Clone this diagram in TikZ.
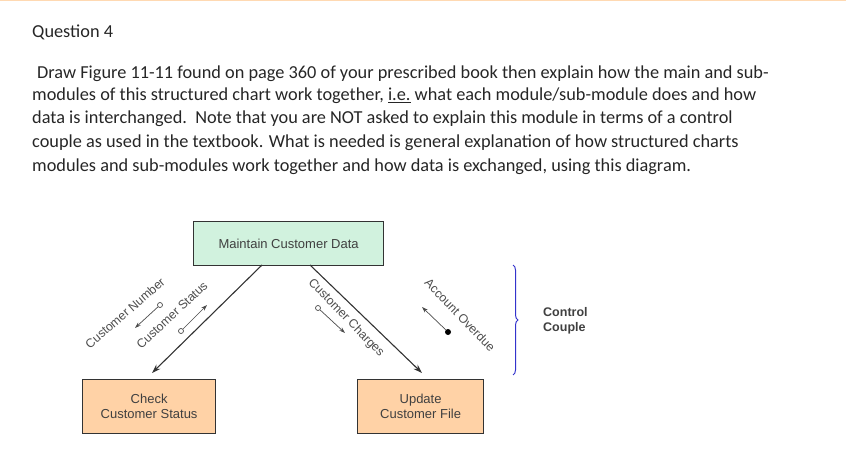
\documentclass[tikz,border=0pt]{standalone}
\usepackage{fontspec}
\setmainfont{Carlito}
\newfontfamily\arialf{Liberation Sans}
\usetikzlibrary{arrows.meta,decorations.pathreplacing}
\begin{document}
\begin{tikzpicture}[x=1pt,y=-1pt,
  txt/.style={anchor=base west,inner sep=0,font=\fontsize{18.3}{21}\selectfont,text=black!85},
  box/.style={draw=black!80,line width=1.2pt,inner sep=0,font=\arialf\fontsize{13}{15}\selectfont,align=center,text=black!75},
  lab/.style={font=\arialf\fontsize{12.3}{14}\selectfont,text=black!70,inner sep=0},
  main/.style={draw=black!80,line width=1.1pt,-{Stealth[length=9pt,width=6pt]}},
  cpl/.style={draw=black!70,line width=0.7pt,-{Stealth[length=6pt,width=4pt]}}]
\useasboundingbox (0,0) rectangle (846,457);
\fill[orange!30] (0,0) rectangle (846,1.5);
\node[txt] (q) at (32,38) {Question 4};
\node[txt] (l1) at (37,79) {Draw Figure 11-11 found on page 360 of your prescribed book then explain how the main and sub-};
\node[txt] (l2) at (32,101) {modules of this structured chart work together, \underline{i.e.} what each module/sub-module does and how};
\node[txt] (l3) at (32,124) {data is interchanged.\ \ Note that you are NOT asked to explain this module in terms of a control};
\node[txt] (l4) at (32,148) {couple as used in the textbook. What is needed is general explanation of how structured charts};
\node[txt] (l5) at (32,172) {modules and sub-modules work together and how data is exchanged, using this diagram.};

\node[box,fill=green!45!teal!18,minimum width=190pt,minimum height=44pt,anchor=north west] (m) at (193,221) {Maintain Customer Data};
\node[box,fill=orange!35,minimum width=133pt,minimum height=54pt,anchor=north west] (c) at (82,379) {Check\\Customer Status};
\node[box,fill=orange!35,minimum width=126pt,minimum height=54pt,anchor=north west] (u) at (357,379) {Update\\Customer File};

\coordinate (ms) at (262,265); \coordinate (ce) at (152,373);
\coordinate (ms2) at (310,265); \coordinate (ue) at (422,373);
\draw[main] (ms) -- (ce);
\draw[main] (ms2) -- (ue);

\node[draw=black!70,circle,inner sep=0,minimum size=5pt,line width=0.7pt] (cn) at (160,305) {};
\coordinate (cnE) at (135,328);
\draw[cpl] (cn) -- (cnE);
\node[lab,rotate=41] (cnl) at (125,313) {Customer Number};

\node[draw=black!70,circle,inner sep=0,minimum size=5pt,line width=0.7pt] (cs) at (181,331) {};
\coordinate (csE) at (207,305);
\draw[cpl] (cs) -- (csE);
\node[lab,rotate=43] (csl) at (172,315) {Customer Status};

\node[draw=black!70,circle,inner sep=0,minimum size=5pt,line width=0.7pt] (cc) at (318,308) {};
\coordinate (ccE) at (345,333);
\draw[cpl] (cc) -- (ccE);
\node[lab,rotate=-46] (ccl) at (346,318) {Customer Charges};

\node[fill=black,circle,inner sep=0,minimum size=6pt] (ao) at (448,332) {};
\coordinate (aoE) at (422,307);
\draw[cpl] (ao) -- (aoE);
\node[lab,rotate=-46] (aol) at (460,315) {Account Overdue};

\coordinate (b1) at (513,265); \coordinate (b2) at (513,375);
\draw[blue!60!gray,line width=1pt,decorate,decoration={brace,amplitude=5pt}] (b1) -- (b2);
\node[lab,font=\arialf\bfseries\fontsize{12.5}{14.5}\selectfont,align=left,anchor=west,text=black!75] (cc2) at (543,321) {Control\\Couple};
\end{tikzpicture}
\end{document}
